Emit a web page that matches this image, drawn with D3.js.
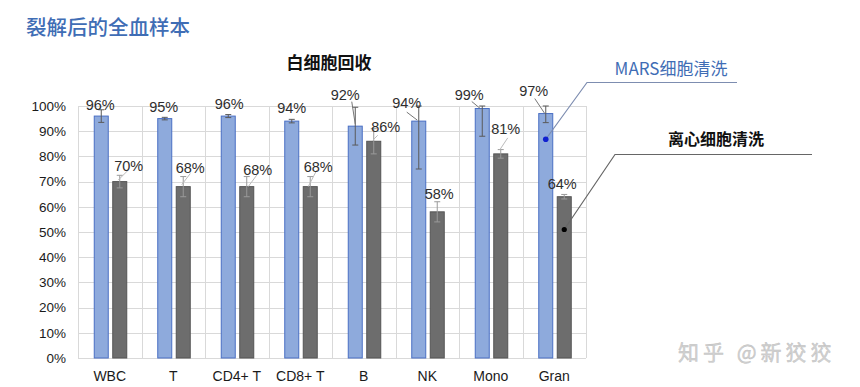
<!DOCTYPE html>
<html>
<head>
<meta charset="utf-8">
<script src="https://cdn.jsdelivr.net/npm/d3@7"></script>
<style>
  body { margin: 0; background: #fff; }
  svg { display: block; font-family: "Liberation Sans", Arial, "Noto Sans CJK SC", sans-serif; }
  .cjk { font-family: "Noto Sans CJK SC", sans-serif; }
</style>
</head>
<body>
<svg id="chart" width="860" height="387"></svg>
<script>
// ---- data ----
const categories = ["WBC", "T", "CD4+ T", "CD8+ T", "B", "NK", "Mono", "Gran"];
const marsValues = [0.96, 0.95, 0.96, 0.94, 0.92, 0.94, 0.99, 0.97];
const marsErrors = [0.025, 0.005, 0.006, 0.007, 0.075, 0.19, 0.11, 0.036];
const centValues = [0.70, 0.68, 0.68, 0.68, 0.86, 0.58, 0.81, 0.64];
const centErrors = [0.025, 0.04, 0.04, 0.04, 0.05, 0.04, 0.017, 0.009];
const yTicks = [0, 0.1, 0.2, 0.3, 0.4, 0.5, 0.6, 0.7, 0.8, 0.9, 1.0];
const seriesNames = ["MARS细胞清洗", "离心细胞清洗"];

// label placement (dx, dy from bar top) and leader lines [x1,y1,x2,y2] rel. to bar top
const marsLabelPos = [[-1, -11], [-1, -12], [1, -12], [0, -13], [-10, -31], [-12, -18], [-13, -14], [-12, -23]];
const centLabelPos = [[9, -16], [7, -19], [11, -17], [8, -20], [12, -15], [2, -18], [5, -25], [-2, -13]];
const marsLeaders = [null, null, null, null, [-3.5, -24.5, 0, -2], [-12, -9, -1.5, -1], [-10.5, -7, -2, 0], [-11, -15, -1, 0]];
const centLeaders = [[8.5, -11.5, -1.5, -1.5], [7, -13, -1.5, -2], [10, -11.5, 1.5, 0], [6.5, -16.5, -2, 0], [4, -6, -1, -1], null, [7, -16, -1, -4], null];

const svg = d3.select("#chart");

const x = d3.scaleBand().domain(categories).range([78, 586]).padding(0);
const xSub = d3.scaleBand().domain(["mars", "cent"]).range([-15.5, 17]).paddingInner(0.243).paddingOuter(0);
const y = d3.scaleLinear().domain([0, 1]).range([358, 106]);
const bw = xSub.bandwidth();
const cx = (c, s) => x(c) + x.bandwidth() / 2 + xSub(s) + bw / 2;

// titles
svg.append("text").attr("class", "cjk")
    .attr("x", 26).attr("y", 35)
    .attr("font-size", 20.5).attr("font-weight", 500).attr("fill", "#3f6db5")
    .text("裂解后的全血样本");

svg.append("text").attr("class", "cjk")
    .attr("x", 329).attr("y", 69).attr("text-anchor", "middle")
    .attr("font-size", 17).attr("font-weight", 700).attr("fill", "#111")
    .text("白细胞回收");

// grid
const grid = svg.append("g").attr("stroke", "#d9d9d9").attr("stroke-width", 1);
grid.selectAll("line.h").data(yTicks).join("line")
    .attr("x1", 78).attr("x2", 586)
    .attr("y1", d => Math.round(y(d)) + 0.5).attr("y2", d => Math.round(y(d)) + 0.5);
grid.selectAll("line.v").data(categories.concat(["_end"])).join("line")
    .attr("x1", (d, i) => Math.round(78 + x.step() * i) + 0.5)
    .attr("x2", (d, i) => Math.round(78 + x.step() * i) + 0.5)
    .attr("y1", y(1)).attr("y2", y(0));

// y axis labels
svg.append("g").selectAll("text").data(yTicks).join("text")
    .attr("x", 66).attr("y", d => y(d)).attr("dy", "0.36em")
    .attr("text-anchor", "end").attr("font-size", 13.5).attr("fill", "#1a1a1a")
    .text(d3.format(".0%"));

// x axis labels
svg.append("g").selectAll("text").data(categories).join("text")
    .attr("x", d => x(d) + x.bandwidth() / 2).attr("y", 376).attr("dy", "0.36em")
    .attr("text-anchor", "middle").attr("font-size", 14).attr("fill", "#1a1a1a")
    .text(d => d);

// bars
function drawSeries(key, values, errors, fill, stroke, errColor) {
    const g = svg.append("g");
    g.selectAll("rect").data(values).join("rect")
        .attr("x", (d, i) => cx(categories[i], key) - bw / 2)
        .attr("y", d => y(d))
        .attr("width", bw)
        .attr("height", d => y(0) - y(d))
        .attr("fill", fill).attr("stroke", stroke).attr("stroke-width", 1);

    const e = g.append("g").attr("stroke", errColor).attr("stroke-width", 1);
    values.forEach((v, i) => {
        const c = cx(categories[i], key);
        const hi = y(Math.min(1, v + errors[i])), lo = y(v - errors[i]);
        e.append("line").attr("x1", c).attr("x2", c).attr("y1", hi).attr("y2", lo);
        e.append("line").attr("x1", c - 3).attr("x2", c + 3).attr("y1", hi).attr("y2", hi);
        e.append("line").attr("x1", c - 3).attr("x2", c + 3).attr("y1", lo).attr("y2", lo);
    });
}
drawSeries("mars", marsValues, marsErrors, "#8eaadc", "#4a6fc4", "#5a5a5a");
drawSeries("cent", centValues, centErrors, "#6d6d6d", "#555", "#9a9a9a");

// value labels and leader lines
function drawLabels(key, values, pos, leaders, leaderColor) {
    const g = svg.append("g");
    values.forEach((v, i) => {
        const c = cx(categories[i], key), t = y(v);
        const L = leaders[i];
        if (L) {
            g.append("line")
                .attr("x1", c + L[0]).attr("y1", t + L[1])
                .attr("x2", c + L[2]).attr("y2", t + L[3])
                .attr("stroke", leaderColor).attr("stroke-width", 1);
        }
        g.append("text")
            .attr("x", c + pos[i][0]).attr("y", t + pos[i][1]).attr("dy", "0.36em")
            .attr("text-anchor", "middle").attr("font-size", 14.5).attr("fill", "#2e2e2e")
            .text(d3.format(".0%")(v));
    });
}
drawLabels("mars", marsValues, marsLabelPos, marsLeaders, "#777");
drawLabels("cent", centValues, centLabelPos, centLeaders, "#bbb");

// series callouts
const gran = categories[categories.length - 1];
const marsDot = [cx(gran, "mars"), y(0.868)];
const centDot = [cx(gran, "cent"), y(0.51)];

svg.append("polyline")
    .attr("points", [marsDot, [587, 82.5], [737, 82.5]].join(" "))
    .attr("fill", "none").attr("stroke", "#7d8db0").attr("stroke-width", 1.2);
svg.append("circle").attr("cx", marsDot[0]).attr("cy", marsDot[1]).attr("r", 2.8).attr("fill", "#1020d0");
svg.append("text").attr("class", "cjk")
    .attr("x", 671).attr("y", 69).attr("dy", "0.36em").attr("text-anchor", "middle")
    .attr("font-size", 17).attr("fill", "#3f6db5")
    .text(seriesNames[0]);

svg.append("polyline")
    .attr("points", [centDot, [615, 154.5], [812, 154.5]].join(" "))
    .attr("fill", "none").attr("stroke", "#666").attr("stroke-width", 1.2);
svg.append("circle").attr("cx", centDot[0]).attr("cy", centDot[1]).attr("r", 2.6).attr("fill", "#000");
svg.append("text").attr("class", "cjk")
    .attr("x", 716).attr("y", 139).attr("dy", "0.36em").attr("text-anchor", "middle")
    .attr("font-size", 16).attr("font-weight", 700).attr("fill", "#111")
    .text(seriesNames[1]);

// watermark
svg.append("text").attr("class", "cjk")
    .attr("x", 678).attr("y", 352).attr("dy", "0.36em")
    .attr("font-size", 21).attr("letter-spacing", 4).attr("fill", "#d2d2d2")
    .attr("stroke", "#bdbdbd").attr("stroke-width", 0.4)
    .text("知乎 @新狡狡");
</script>
</body>
</html>
